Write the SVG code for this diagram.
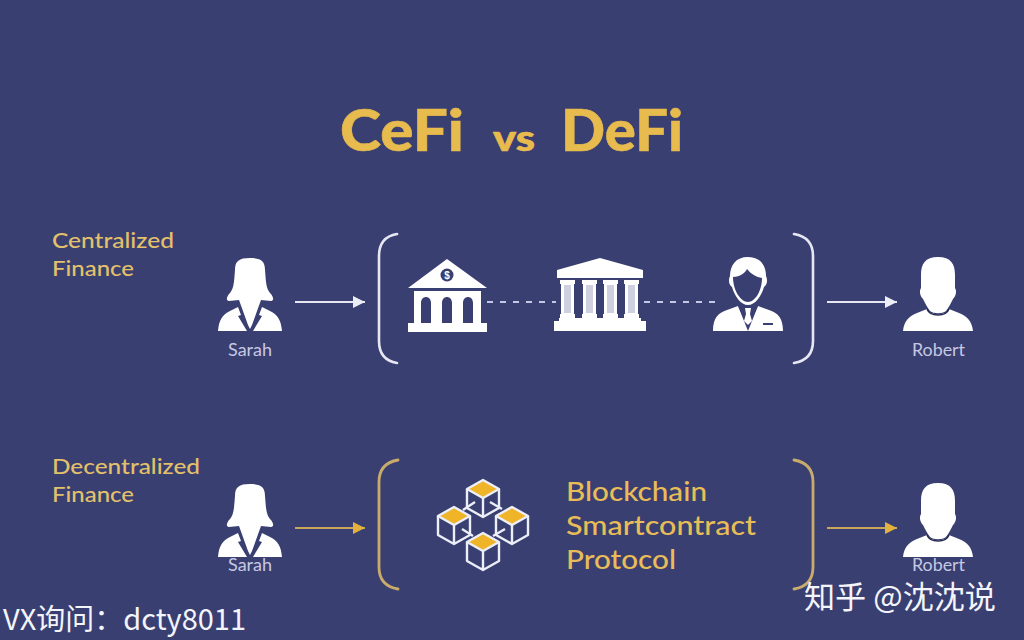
<svg xmlns="http://www.w3.org/2000/svg" width="1024" height="640" viewBox="0 0 1024 640">
<style>
.bg{fill:#3a3f72}
.y{fill:#e8bb4e;font-family:Lato,"Liberation Sans",sans-serif}
.title{font-weight:900;stroke:#e8bb4e;stroke-width:.6}
.lab{font-size:22px;font-weight:500;fill:#e3c06a}
.name{font-family:Lato,"Liberation Sans",sans-serif;font-size:17px;fill:#c6c9e2}
.side{font-size:27px;font-weight:500;fill:#e8bd57}
.wm{font-family:"Noto Sans CJK SC","Noto Sans",sans-serif;fill:#f4f5fa}
.w{fill:#fff}
.d{fill:#3a3f72}
.gw{fill:none;stroke:#e6e7f2;stroke-width:2.6;stroke-linecap:round}
.gy{fill:none;stroke:#c9ab6c;stroke-width:2.8;stroke-linecap:round}
.aw{fill:none;stroke:#e6e7f2;stroke-width:1.8}
.ay{fill:none;stroke:#c9a657;stroke-width:1.8}
.dash{fill:none;stroke:#c5c8e2;stroke-width:1.8;stroke-dasharray:6 7}
.cube{fill:none;stroke:#eceef8;stroke-width:2.4;stroke-linejoin:round}
.top{fill:#f0b429;stroke:#eceef8;stroke-width:2.4;stroke-linejoin:round}
</style>
<defs>
<marker id="hw" markerUnits="userSpaceOnUse" markerWidth="12" markerHeight="12" refX="12" refY="6" orient="auto"><path d="M0 0L12 6L0 12Z" fill="#eceef6"/></marker>
<marker id="hy" markerUnits="userSpaceOnUse" markerWidth="12" markerHeight="12" refX="12" refY="6" orient="auto"><path d="M0 0L12 6L0 12Z" fill="#e3b23c"/></marker>
<g id="woman">
<path class="w" d="M250 258C239 258 235 261 235 270C234 282 234 288 230 293C226 297 226 301 229 301L239 300L248 325L250 329L252 325L261 300L271 301C274 301 274 297 270 293C266 288 266 282 265 270C265 261 261 258 250 258Z"/>
<path class="w" d="M218 331C219 320 222 315 230 311L238 307L241 315L238 316L247 331ZM282 331C281 320 278 315 270 311L262 307L259 315L262 316L253 331Z"/>
</g>
<g id="man">
<path class="w" d="M938 257C925 257 921 264 921 275C921 281 921 285 921 288C919 291 920 296 923 299C925 303 927 307 930 311C934 314 942 314 946 311C949 307 951 303 953 299C956 296 957 291 955 288C955 285 955 281 955 275C955 264 951 257 938 257Z"/>
<path class="w" d="M903 331C904 321 909 316 917 313L927 309C930 316 946 316 949 309L959 313C967 316 972 321 973 331Z"/>
<path d="M927 309C930 317 946 317 949 309" fill="none" stroke="#23264f" stroke-width="1.5"/>
</g>
<g id="cube">
<path class="top" d="M0 -15L16 -6L0 3L-16 -6Z"/>
<path class="cube" d="M-16 -6V13L0 22L16 13V-6M0 3V22"/>
</g>
</defs>
<rect class="bg" width="1024" height="640"/>
<g id="title">
<text class="y title" x="340" y="151" font-size="58" textLength="124" lengthAdjust="spacingAndGlyphs">CeFi</text>
<text class="y title" x="493" y="151" font-size="36" textLength="42" lengthAdjust="spacingAndGlyphs">vs</text>
<text class="y title" x="561" y="151" font-size="58" textLength="122" lengthAdjust="spacingAndGlyphs">DeFi</text>
</g>
<g id="label-cefi">
<text class="y lab" x="52" y="248" textLength="122" lengthAdjust="spacingAndGlyphs">Centralized</text>
<text class="y lab" x="52" y="276" textLength="82" lengthAdjust="spacingAndGlyphs">Finance</text>
</g>
<g id="label-defi">
<text class="y lab" x="52" y="474" textLength="148" lengthAdjust="spacingAndGlyphs">Decentralized</text>
<text class="y lab" x="52" y="502" textLength="82" lengthAdjust="spacingAndGlyphs">Finance</text>
</g>
<g id="connectors">
<path class="aw" d="M295 302H365" marker-end="url(#hw)"/>
<path class="aw" d="M827 302H897" marker-end="url(#hw)"/>
<path class="ay" d="M295 528H365" marker-end="url(#hy)"/>
<path class="ay" d="M827 528H897" marker-end="url(#hy)"/>
<path class="dash" d="M487 302H556"/>
<path class="dash" d="M644 302H716"/>
<path class="gw" d="M397 234C385 236 379 243 379 256V341C379 354 385 361 397 363"/>
<path class="gw" d="M794 234C806 236 813 243 813 256V341C813 354 806 361 794 363"/>
<path class="gy" d="M398 460C386 462 379 469 379 482V567C379 580 386 587 398 589"/>
<path class="gy" d="M794 460C806 462 813 469 813 482V567C813 580 806 587 794 589"/>
</g>
<g id="sarah-top"><use href="#woman"/><text class="name" x="228" y="356" textLength="44" lengthAdjust="spacingAndGlyphs">Sarah</text></g>
<g id="bank">
<path class="w" d="M447 259L487 288H408Z"/>
<circle cx="447" cy="275" r="6.500" fill="#3a3f72"/>
<text x="447" y="279" font-family="Liberation Sans,sans-serif" font-size="10" font-weight="700" fill="#fff" text-anchor="middle">$</text>
<path class="w" d="M414 291H481V323H414Z"/>
<path class="d" d="M421 323V303C421 295 431 295 431 303V323ZM442 323V303C442 295 452 295 452 303V323ZM463 323V303C463 295 473 295 473 303V323Z"/>
<rect class="w" x="408" y="323" width="79" height="9"/>
</g>
<g id="temple">
<path class="w" d="M557 270L600 258L643 270V278H557Z"/>
<path class="w" d="M560 280H575V284H574V314H575V318H560V314H561V284H560ZM582 280H597V284H596V314H597V318H582V314H583V284H582ZM603 280H618V284H617V314H618V318H603V314H604V284H603ZM624 280H639V284H638V314H639V318H624V314H625V284H624Z"/>
<path d="M567.500 285V313M589.500 285V313M610.500 285V313M631.500 285V313" stroke="#cfd0e0" stroke-width="7" fill="none"/>
<path class="w" d="M559 318H641V321H646V331H554V321H559Z"/>
</g>
<g id="banker">
<path class="w" d="M713 331C713 318 718 313 727 310L738 306L748 331ZM783 331C783 318 778 313 769 310L758 306L748 331Z"/>
<path class="w" d="M748 257C736 257 730 265 730 276C728 280 729 285 732 287C735 297 741 305 748 305C755 305 761 297 764 287C767 285 768 280 766 276C766 265 760 257 748 257Z"/>
<path class="d" d="M733 277C740 277 745 273 747 269C751 274 756 277 762 278C762 291 755 302 748 302C741 302 733 291 733 277Z"/>
<path class="d" d="M738 306L748 326L758 306L751 309H745Z"/>
<path class="w" d="M745 308H751L750 314L752 321L748 325L744 321L746 314Z"/>
<rect class="d" x="763" y="323" width="10" height="2"/>
</g>
<g id="robert-top"><use href="#man"/><text class="name" x="912" y="356" textLength="53" lengthAdjust="spacingAndGlyphs">Robert</text></g>
<g id="sarah-bottom"><use href="#woman" y="226"/><text class="name" x="228" y="571" textLength="44" lengthAdjust="spacingAndGlyphs">Sarah</text></g>
<g id="blocks">
<path fill="none" stroke="#eceef8" stroke-width="2.4" d="M475 502L463 510M490 502L502 509M462 529L473 536M505 529L493 536"/>
<use href="#cube" x="483" y="495"/>
<use href="#cube" x="454" y="522"/>
<use href="#cube" x="512" y="522"/>
<use href="#cube" x="483" y="548"/>
</g>
<g id="protocols">
<text class="y side" x="566" y="501" textLength="141" lengthAdjust="spacingAndGlyphs">Blockchain</text>
<text class="y side" x="566" y="535" textLength="190" lengthAdjust="spacingAndGlyphs">Smartcontract</text>
<text class="y side" x="566" y="569" textLength="110" lengthAdjust="spacingAndGlyphs">Protocol</text>
</g>
<g id="robert-bottom"><use href="#man" y="226"/><text class="name" x="912" y="571" textLength="53" lengthAdjust="spacingAndGlyphs">Robert</text></g>
<g id="watermarks">
<text class="wm" x="3" y="630" font-size="29" textLength="243" lengthAdjust="spacingAndGlyphs">VX询问：dcty8011</text>
<text class="wm" x="804" y="608" font-size="31" textLength="192" lengthAdjust="spacingAndGlyphs">知乎 @沈沈说</text>
</g>
</svg>
